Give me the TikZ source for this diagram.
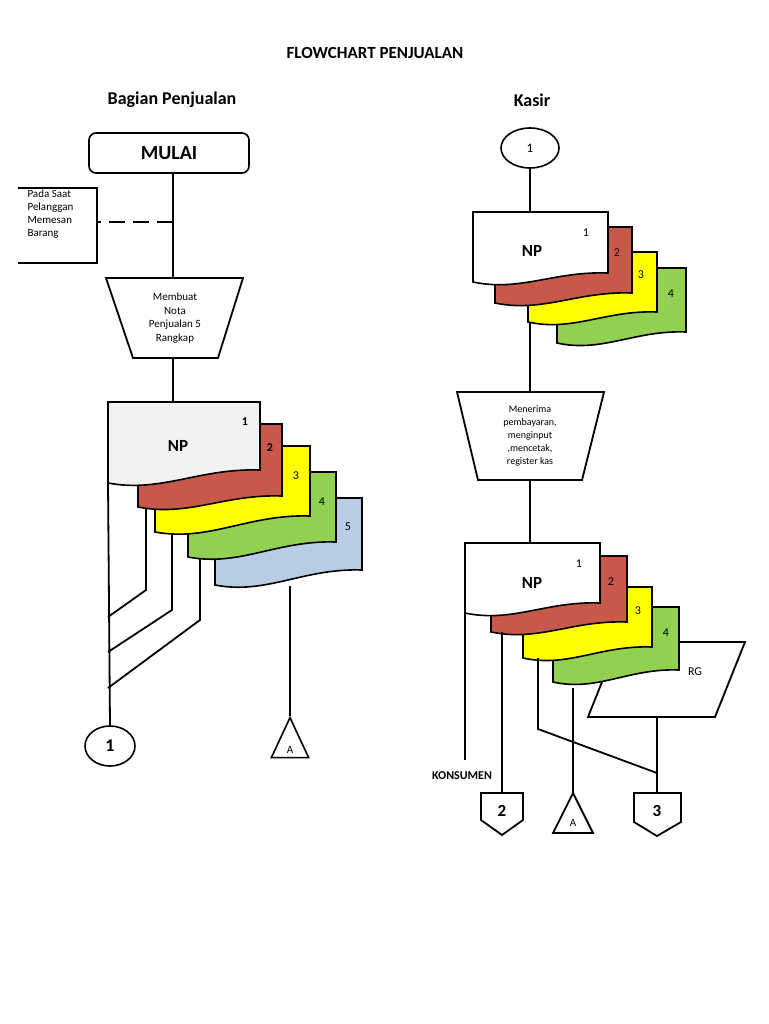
\documentclass[tikz,border=0pt]{standalone}
\usepackage{fontspec}
\setmainfont{Carlito}
\usetikzlibrary{shapes.geometric}
\definecolor{cRed}{RGB}{200,88,74}
\definecolor{cYel}{RGB}{255,255,0}
\definecolor{cGrn}{RGB}{146,208,80}
\definecolor{cBlu}{RGB}{184,204,228}
\definecolor{cGry}{RGB}{242,242,242}
\newcommand\npdoc[6]{\filldraw[doc,fill=#6] (#1,#3) -- (#2,#3) -- (#2,#5) .. controls ({#1+0.6*(#2-#1)},{#5-2}) and ({#1+0.35*(#2-#1)},{#4+10}) .. (#1,#4) -- cycle;}
\begin{document}
\begin{tikzpicture}[x=1pt,y=-1pt,
  doc/.style={draw=black,line width=1.6pt,line join=miter},
  ln/.style={line width=1.8pt},
  sm/.style={font=\fontsize{11}{13.5}\selectfont,align=center},
  num/.style={font=\fontsize{12}{14}\selectfont},
  np/.style={font=\fontsize{17}{20}\selectfont\bfseries},
  con/.style={draw,ellipse,line width=1.6pt,minimum width=50pt,minimum height=40pt,inner sep=0pt}]
\useasboundingbox (0,0) rectangle (768,1024);
\node[font=\fontsize{17}{20}\selectfont\bfseries] (title) at (375,53) {FLOWCHART PENJUALAN};
\node[font=\fontsize{18}{20}\selectfont\bfseries] (h1) at (172,100) {Bagian Penjualan};
\node[font=\fontsize{18}{20}\selectfont\bfseries] (h2) at (532,100) {Kasir};
% ---- left
\node[draw,rounded corners=7pt,line width=1.6pt,minimum width=160pt,minimum height=40pt,font=\fontsize{20}{22}\selectfont\bfseries] (mulai) at (169,153) {MULAI};
\draw[ln] (18,188) -- (97,188) -- (97,263) -- (18,263);
\node[font=\fontsize{11}{13}\selectfont,align=left,anchor=north west] (ket) at (24,186) {Pada Saat\\Pelanggan\\Memesan\\Barang};
\coordinate (tl) at (106,278); \coordinate (tr) at (243,278);
\draw[ln] (tl) -- (tr) -- (218,358) -- (133,358) -- cycle;
\node[sm] (proc1) at (175,318) {Membuat\\Nota\\Penjualan 5\\Rangkap};
\draw[ln] (173,173) -- (173,278);
\draw[ln,dash pattern=on 16pt off 8pt] (173,222) -- (97,222);
\draw[ln] (173,358) -- (173,402);
\npdoc{215}{362}{498}{585}{570}{cBlu}
\npdoc{188}{336}{472}{557}{542}{cGrn}
\npdoc{155}{310}{446}{532}{516}{cYel}
\npdoc{138}{282}{424}{507}{496}{cRed}
\npdoc{108}{260}{402}{483}{470}{cGry}
\node[np] (npA) at (178,446) {NP};
\node[num,font=\fontsize{12}{14}\selectfont\bfseries] at (245,422) {1};
\node[num,font=\fontsize{12}{14}\selectfont\bfseries] at (270,448) {2};
\node[num] at (296,476) {3};
\node[num] at (322,502) {4};
\node[num] at (348,527) {5};
\node[con,font=\fontsize{18}{20}\selectfont\bfseries] (c1) at (110,746) {1};
\node[draw,isosceles triangle,shape border rotate=90,isosceles triangle apex angle=50,line width=1.6pt,minimum height=40pt,inner sep=1pt] (ta) at (290,746) {};
\node[font=\fontsize{11}{13}\selectfont] at (290,750) {A};
\draw[ln] (108,483) -- (c1.north);
\draw[ln] (146,509) -- (146,590) -- (108,617);
\draw[ln] (172,534) -- (172,610) -- (108,652);
\draw[ln] (200,558) -- (200,620) -- (108,688);
\draw[ln] (290,586) -- (ta.apex);
% ---- right top
\node[con,minimum width=58pt,font=\fontsize{13}{14}\selectfont] (c2) at (530,148) {1};
\draw[ln] (c2.south) -- (530,212);
\npdoc{557}{686}{268}{343}{332}{cGrn}
\npdoc{528}{657}{252}{322}{312}{cYel}
\npdoc{495}{632}{227}{303}{293}{cRed}
\npdoc{473}{608}{212}{282}{273}{white}
\node[np] at (532,251) {NP};
\node[num] at (586,233) {1};
\node[num] at (617,253) {2};
\node[num] at (641,275) {3};
\node[num] at (671,294) {4};
\draw[ln] (530,322) -- (530,392);
\draw[ln] (457,392) -- (604,392) -- (582,480) -- (478,480) -- cycle;
\node[font=\fontsize{10}{13}\selectfont,align=center] (proc2) at (530,436) {Menerima\\pembayaran,\\menginput\\,mencetak,\\register kas};
\draw[ln] (530,480) -- (530,543);
% ---- right bottom
\draw[ln,fill=white] (618,642) -- (745,642) -- (715,717) -- (588,717) -- cycle;
\node[font=\fontsize{12}{14}\selectfont] (rg) at (695,672) {RG};
\npdoc{553}{679}{607}{682}{670}{cGrn}
\npdoc{523}{652}{587}{658}{647}{cYel}
\npdoc{491}{627}{556}{632}{622}{cRed}
\npdoc{465}{600}{543}{613}{603}{white}
\node[np] at (532,583) {NP};
\node[num] at (579,564) {1};
\node[num] at (611,582) {2};
\node[num] at (638,611) {3};
\node[num] at (666,633) {4};
\draw[ln] (465,613) -- (465,760);
\node[font=\fontsize{12}{14}\selectfont\bfseries] (kons) at (462,776) {KONSUMEN};
\draw[ln] (481,793) -- (523,793) -- (523,820) -- (502,835) -- (481,820) -- cycle;
\node[font=\fontsize{17}{20}\selectfont\bfseries] (o2) at (502,811) {2};
\draw[ln] (634,793) -- (681,793) -- (681,822) -- (657,836) -- (634,822) -- cycle;
\node[font=\fontsize{17}{20}\selectfont\bfseries] (o3) at (657,811) {3};
\draw[ln] (553,833) -- (573,793) -- (593,833) -- cycle;
\node[font=\fontsize{11}{13}\selectfont] (ta2) at (573,823) {A};
\draw[ln] (502,632) -- (502,793);
\draw[ln] (538,658) -- (538,729) -- (657,773);
\draw[ln] (657,717) -- (657,793);
\draw[ln] (573,688) -- (573,793);
\end{tikzpicture}
\end{document}
